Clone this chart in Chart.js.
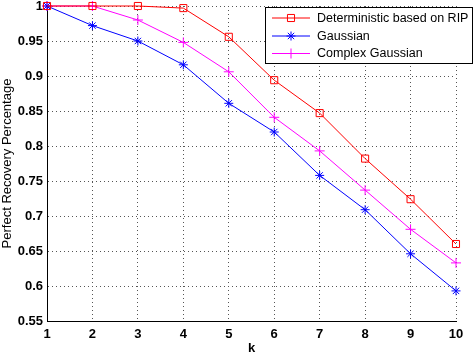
<!DOCTYPE html>
<html>
<head>
<meta charset="utf-8">
<script src="https://cdn.jsdelivr.net/npm/chart.js@4/dist/chart.umd.min.js"></script>
<style>
  html, body { margin: 0; padding: 0; background: #ffffff; }
  #wrap { width: 474px; height: 352px; position: relative; }
</style>
</head>
<body>
<div id="wrap"><canvas id="c" width="474" height="352"></canvas></div>
<script>
// ---- data ----
const kValues = [1, 2, 3, 4, 5, 6, 7, 8, 9, 10];
const deterministicRIP = [1.000, 1.000, 1.000, 0.997, 0.956, 0.894, 0.847, 0.782, 0.724, 0.660];
const gaussian = [1.000, 0.972, 0.950, 0.916, 0.861, 0.820, 0.758, 0.709, 0.646, 0.593];
const complexGaussian = [1.000, 1.000, 0.980, 0.948, 0.906, 0.841, 0.793, 0.737, 0.681, 0.633];
const seriesNames = ['Deterministic based on RIP', 'Gaussian', 'Complex Gaussian'];
const yTickValues = [0.55, 0.6, 0.65, 0.7, 0.75, 0.8, 0.85, 0.9, 0.95, 1];
const xTitle = 'k';
const yTitle = 'Perfect Recovery Percentage';

const FONT = "'Liberation Sans', Arial, Helvetica, sans-serif";

function pts(ys) { return kValues.map((k, i) => ({ x: k, y: ys[i] })); }

const styles = [
  { color: '#ff0000', pointStyle: 'rect', radius: 5 },
  { color: '#0000ff', pointStyle: 'star', radius: 4.5 },
  { color: '#ff00ff', pointStyle: 'cross', radius: 5 }
];
const allSeries = [deterministicRIP, gaussian, complexGaussian];

const datasets = allSeries.map((s, i) => ({
  label: seriesNames[i],
  data: pts(s),
  borderColor: styles[i].color,
  backgroundColor: styles[i].color,
  borderWidth: 1,
  pointStyle: styles[i].pointStyle,
  pointRadius: styles[i].radius,
  pointHoverRadius: styles[i].radius,
  pointBorderColor: styles[i].color,
  pointBackgroundColor: 'rgba(0,0,0,0)',
  pointBorderWidth: 1,
  tension: 0,
  clip: false
}));

const legendBox = {
  id: 'legendBox',
  afterDraw(chart) {
    const ctx = chart.ctx;
    ctx.save();
    const x0 = 265.5, y0 = 7.5, w = 207, h = 56;
    ctx.fillStyle = '#ffffff';
    ctx.fillRect(x0, y0, w, h);
    ctx.strokeStyle = '#000000';
    ctx.lineWidth = 1;
    ctx.strokeRect(x0, y0, w, h);
    const rows = [18, 36, 53.5];
    ctx.font = '12.5px ' + FONT;
    ctx.textBaseline = 'middle';
    ctx.textAlign = 'left';
    rows.forEach((ry, i) => {
      ctx.strokeStyle = styles[i].color;
      ctx.lineWidth = 1;
      ctx.beginPath();
      ctx.moveTo(272, ry);
      ctx.lineTo(310, ry);
      ctx.stroke();
      ctx.fillStyle = 'rgba(0,0,0,0)';
      Chart.helpers.drawPoint(ctx, {
        pointStyle: styles[i].pointStyle,
        radius: styles[i].radius,
        rotation: 0,
        borderWidth: 1
      }, 291, ry);
      ctx.fillStyle = '#000000';
      ctx.fillText(seriesNames[i], 317, ry + 0.5);
    });
    ctx.restore();
  }
};

new Chart(document.getElementById('c'), {
  type: 'line',
  data: { datasets },
  plugins: [legendBox],
  options: {
    responsive: false,
    animation: false,
    devicePixelRatio: 1,
    layout: { padding: { left: 0, right: 18, top: 4, bottom: 0 } },
    plugins: {
      legend: { display: false },
      tooltip: { enabled: false },
      title: { display: false }
    },
    scales: {
      x: {
        type: 'linear',
        min: 1,
        max: 10,
        afterFit(scale) {
          scale.height = 31;
          scale.paddingLeft = 0;
          scale.paddingRight = 0;
        },
        ticks: {
          stepSize: 1,
          padding: 6,
          color: '#000000',
          font: { family: FONT, size: 13, weight: 'bold' },
          maxRotation: 0
        },
        grid: {
          color: '#555555',
          lineWidth: 1,
          drawTicks: false
        },
        border: { display: true, color: '#000000', width: 1, dash: [1, 3] },
        title: {
          display: true,
          text: xTitle,
          color: '#000000',
          font: { family: FONT, size: 13, weight: 'bold', lineHeight: 1 },
          padding: { top: 0, bottom: -3 }
        }
      },
      y: {
        type: 'linear',
        min: 0.55,
        max: 1,
        afterFit(scale) {
          scale.width = 47;
          scale.paddingTop = 0;
          scale.paddingBottom = 0;
        },
        afterBuildTicks(scale) {
          scale.ticks = yTickValues.map(v => ({ value: v }));
        },
        ticks: {
          padding: 4,
          color: '#000000',
          font: { family: FONT, size: 13, weight: 'bold' },
          callback: (v) => String(+Number(v).toFixed(2))
        },
        grid: {
          color: '#555555',
          lineWidth: 1,
          drawTicks: false
        },
        border: { display: true, color: '#000000', width: 1, dash: [1, 3] },
        title: {
          display: true,
          text: yTitle,
          color: '#000000',
          font: { family: FONT, size: 13, weight: 'normal' },
          padding: { top: 0, bottom: 0 }
        }
      }
    }
  }
});
</script>
</body>
</html>
